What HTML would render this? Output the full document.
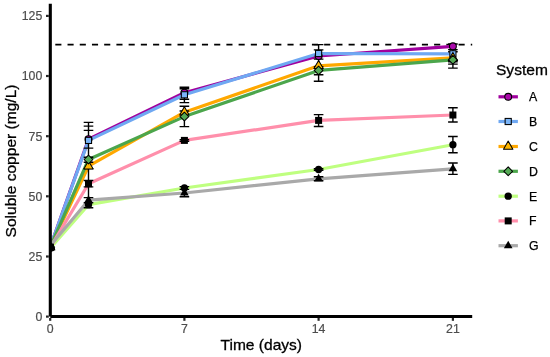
<!DOCTYPE html>
<html><head><meta charset="utf-8"><title>Soluble copper</title>
<style>
html,body{margin:0;padding:0;background:#fff;}
svg{display:block;font-family:"Liberation Sans",sans-serif;}
</style></head><body>
<svg width="550" height="357" viewBox="0 0 550 357">
<defs><clipPath id="pc"><rect x="50.2" y="3.8" width="422" height="312.8"/></clipPath></defs>
<rect width="550" height="357" fill="#fff"/>
<line x1="55.3" x2="472.2" y1="44.7" y2="44.7" stroke="#000" stroke-width="1.7" stroke-dasharray="6.11 6.11"/>
<g fill="none" stroke-linejoin="round" stroke-linecap="butt" clip-path="url(#pc)">
<polyline points="50.2,247.2 88.5,139.2 184.4,92.7 318.6,56.0 452.9,46.3" stroke="#A0009E" stroke-width="3.2"/>
<polyline points="50.2,247.2 88.5,140.4 184.4,94.8 318.6,53.5 452.9,53.8" stroke="#6FA8F2" stroke-width="3.2"/>
<polyline points="50.2,247.2 88.5,166.2 184.4,112.2 318.6,65.8 452.9,57.8" stroke="#FFA800" stroke-width="3.2"/>
<polyline points="50.2,247.2 88.5,159.5 184.4,116.6 318.6,70.4 452.9,59.8" stroke="#4CA64C" stroke-width="3.2"/>
<polyline points="50.2,248.3 88.5,204.7 184.4,188.0 318.6,169.5 452.9,144.7" stroke="#BFFF80" stroke-width="3.2"/>
<polyline points="50.2,247.6 88.5,183.7 184.4,140.4 318.6,120.4 452.9,115.0" stroke="#FF8FAB" stroke-width="3.2"/>
<polyline points="50.2,245.8 88.5,200.2 184.4,193.0 318.6,178.8 452.9,168.8" stroke="#A9A9A9" stroke-width="3.2"/>
</g>
<g stroke="#000" stroke-width="1.4" fill="none" clip-path="url(#pc)">
<path d="M50.2 245.0V251.8"/>
<path d="M45.4 248.4H55.0"/>
<path d="M88.5 122.4V207.8"/>
<path d="M83.7 122.4H93.3"/>
<path d="M83.7 126.1H93.3"/>
<path d="M83.7 130.4H93.3"/>
<path d="M83.7 148.1H93.3"/>
<path d="M83.7 157.2H93.3"/>
<path d="M83.7 162.2H93.3"/>
<path d="M83.7 168.6H93.3"/>
<path d="M83.7 180.5H93.3"/>
<path d="M83.7 186.9H93.3"/>
<path d="M83.7 197.6H93.3"/>
<path d="M83.7 202.8H93.3"/>
<path d="M83.7 207.8H93.3"/>
<path d="M184.4 87.2V102.6"/>
<path d="M184.4 106.2V126.6"/>
<path d="M184.4 139.4V141.4"/>
<path d="M184.4 186.6V196.8"/>
<path d="M179.6 87.2H189.2"/>
<path d="M179.6 88.8H189.2"/>
<path d="M179.6 99.3H189.2"/>
<path d="M179.6 102.6H189.2"/>
<path d="M179.6 106.2H189.2"/>
<path d="M179.6 111.0H189.2"/>
<path d="M179.6 126.6H189.2"/>
<path d="M179.6 139.6H189.2"/>
<path d="M179.6 141.2H189.2"/>
<path d="M179.6 186.6H189.2"/>
<path d="M179.6 189.4H189.2"/>
<path d="M179.6 196.8H189.2"/>
<path d="M318.6 44.6V81.2"/>
<path d="M318.6 114.6V126.5"/>
<path d="M318.6 168.5V170.5"/>
<path d="M318.6 176.8V180.8"/>
<path d="M313.8 44.6H323.4"/>
<path d="M313.8 49.9H323.4"/>
<path d="M313.8 59.1H323.4"/>
<path d="M313.8 66.6H323.4"/>
<path d="M313.8 74.7H323.4"/>
<path d="M313.8 81.3H323.4"/>
<path d="M313.8 114.6H323.4"/>
<path d="M313.8 126.5H323.4"/>
<path d="M313.8 168.7H323.4"/>
<path d="M313.8 170.3H323.4"/>
<path d="M313.8 176.8H323.4"/>
<path d="M313.8 180.8H323.4"/>
<path d="M452.9 44.0V68.1"/>
<path d="M452.9 107.7V122.0"/>
<path d="M452.9 136.5V152.7"/>
<path d="M452.9 163.0V174.4"/>
<path d="M448.1 44.0H457.7"/>
<path d="M448.1 49.6H457.7"/>
<path d="M448.1 51.8H457.7"/>
<path d="M448.1 61.7H457.7"/>
<path d="M448.1 64.1H457.7"/>
<path d="M448.1 68.1H457.7"/>
<path d="M448.1 107.7H457.7"/>
<path d="M448.1 122.0H457.7"/>
<path d="M448.1 136.5H457.7"/>
<path d="M448.1 152.7H457.7"/>
<path d="M448.1 163.0H457.7"/>
<path d="M448.1 174.4H457.7"/>
</g>
<g clip-path="url(#pc)">
<circle cx="50.2" cy="247.2" r="3.45" fill="#AA0AAA" stroke="#000" stroke-width="1.05"/>
<circle cx="88.5" cy="139.2" r="3.45" fill="#AA0AAA" stroke="#000" stroke-width="1.05"/>
<circle cx="184.4" cy="92.7" r="3.45" fill="#AA0AAA" stroke="#000" stroke-width="1.05"/>
<circle cx="318.6" cy="56.0" r="3.45" fill="#AA0AAA" stroke="#000" stroke-width="1.05"/>
<circle cx="452.9" cy="46.3" r="3.45" fill="#AA0AAA" stroke="#000" stroke-width="1.05"/>
<rect x="47.12" y="244.12" width="6.16" height="6.16" fill="#7AB4F8" stroke="#000" stroke-width="1.05"/>
<rect x="85.42" y="137.32" width="6.16" height="6.16" fill="#7AB4F8" stroke="#000" stroke-width="1.05"/>
<rect x="181.32" y="91.72" width="6.16" height="6.16" fill="#7AB4F8" stroke="#000" stroke-width="1.05"/>
<rect x="315.52" y="50.42" width="6.16" height="6.16" fill="#7AB4F8" stroke="#000" stroke-width="1.05"/>
<rect x="449.82" y="50.72" width="6.16" height="6.16" fill="#7AB4F8" stroke="#000" stroke-width="1.05"/>
<path d="M50.20 241.80L54.88 249.90L45.52 249.90Z" fill="#FFB700" stroke="#000" stroke-width="1.05" stroke-linejoin="round"/>
<path d="M88.50 160.80L93.18 168.90L83.82 168.90Z" fill="#FFB700" stroke="#000" stroke-width="1.05" stroke-linejoin="round"/>
<path d="M184.40 106.80L189.08 114.90L179.72 114.90Z" fill="#FFB700" stroke="#000" stroke-width="1.05" stroke-linejoin="round"/>
<path d="M318.60 60.40L323.28 68.50L313.92 68.50Z" fill="#FFB700" stroke="#000" stroke-width="1.05" stroke-linejoin="round"/>
<path d="M452.90 52.40L457.58 60.50L448.22 60.50Z" fill="#FFB700" stroke="#000" stroke-width="1.05" stroke-linejoin="round"/>
<path d="M50.20 242.83L54.57 247.20L50.20 251.57L45.83 247.20Z" fill="#55AA55" stroke="#000" stroke-width="1.05" stroke-linejoin="round"/>
<path d="M88.50 155.13L92.87 159.50L88.50 163.87L84.13 159.50Z" fill="#55AA55" stroke="#000" stroke-width="1.05" stroke-linejoin="round"/>
<path d="M184.40 112.23L188.77 116.60L184.40 120.97L180.03 116.60Z" fill="#55AA55" stroke="#000" stroke-width="1.05" stroke-linejoin="round"/>
<path d="M318.60 66.03L322.97 70.40L318.60 74.77L314.23 70.40Z" fill="#55AA55" stroke="#000" stroke-width="1.05" stroke-linejoin="round"/>
<path d="M452.90 55.43L457.27 59.80L452.90 64.17L448.53 59.80Z" fill="#55AA55" stroke="#000" stroke-width="1.05" stroke-linejoin="round"/>
<circle cx="50.2" cy="248.3" r="3.65" fill="#000"/>
<circle cx="88.5" cy="204.7" r="3.65" fill="#000"/>
<circle cx="184.4" cy="188.0" r="3.65" fill="#000"/>
<circle cx="318.6" cy="169.5" r="3.65" fill="#000"/>
<circle cx="452.9" cy="144.7" r="3.65" fill="#000"/>
<rect x="46.70" y="244.10" width="7.00" height="7.00" fill="#000"/>
<rect x="85.00" y="180.20" width="7.00" height="7.00" fill="#000"/>
<rect x="180.90" y="136.90" width="7.00" height="7.00" fill="#000"/>
<rect x="315.10" y="116.90" width="7.00" height="7.00" fill="#000"/>
<rect x="449.40" y="111.50" width="7.00" height="7.00" fill="#000"/>
<path d="M50.20 240.80L54.53 248.30L45.87 248.30Z" fill="#000"/>
<path d="M88.50 195.20L92.83 202.70L84.17 202.70Z" fill="#000"/>
<path d="M184.40 188.00L188.73 195.50L180.07 195.50Z" fill="#000"/>
<path d="M318.60 173.80L322.93 181.30L314.27 181.30Z" fill="#000"/>
<path d="M452.90 163.80L457.23 171.30L448.57 171.30Z" fill="#000"/>
</g>
<line x1="50.3" x2="50.3" y1="3.8" y2="316.6" stroke="#000" stroke-width="3.1"/>
<line x1="50.3" x2="472.2" y1="316.55" y2="316.55" stroke="#000" stroke-width="3"/>
<line x1="46.0" x2="48.8" y1="316.6" y2="316.6" stroke="#262626" stroke-width="2.2"/>
<text x="42.3" y="321.0" text-anchor="end" font-size="12.3" fill="#4D4D4D" stroke="#4D4D4D" stroke-width="0.2">0</text>
<line x1="46.0" x2="48.8" y1="256.5" y2="256.5" stroke="#262626" stroke-width="2.2"/>
<text x="42.3" y="260.9" text-anchor="end" font-size="12.3" fill="#4D4D4D" stroke="#4D4D4D" stroke-width="0.2">25</text>
<line x1="46.0" x2="48.8" y1="196.3" y2="196.3" stroke="#262626" stroke-width="2.2"/>
<text x="42.3" y="200.7" text-anchor="end" font-size="12.3" fill="#4D4D4D" stroke="#4D4D4D" stroke-width="0.2">50</text>
<line x1="46.0" x2="48.8" y1="136.2" y2="136.2" stroke="#262626" stroke-width="2.2"/>
<text x="42.3" y="140.6" text-anchor="end" font-size="12.3" fill="#4D4D4D" stroke="#4D4D4D" stroke-width="0.2">75</text>
<line x1="46.0" x2="48.8" y1="76.0" y2="76.0" stroke="#262626" stroke-width="2.2"/>
<text x="42.3" y="80.4" text-anchor="end" font-size="12.3" fill="#4D4D4D" stroke="#4D4D4D" stroke-width="0.2">100</text>
<line x1="46.0" x2="48.8" y1="15.9" y2="15.9" stroke="#262626" stroke-width="2.2"/>
<text x="42.3" y="20.3" text-anchor="end" font-size="12.3" fill="#4D4D4D" stroke="#4D4D4D" stroke-width="0.2">125</text>
<line x1="50.2" x2="50.2" y1="318" y2="320.8" stroke="#262626" stroke-width="2.2"/>
<text x="50.2" y="332.5" text-anchor="middle" font-size="12.3" fill="#4D4D4D" stroke="#4D4D4D" stroke-width="0.2">0</text>
<line x1="184.4" x2="184.4" y1="318" y2="320.8" stroke="#262626" stroke-width="2.2"/>
<text x="184.4" y="332.5" text-anchor="middle" font-size="12.3" fill="#4D4D4D" stroke="#4D4D4D" stroke-width="0.2">7</text>
<line x1="318.6" x2="318.6" y1="318" y2="320.8" stroke="#262626" stroke-width="2.2"/>
<text x="318.6" y="332.5" text-anchor="middle" font-size="12.3" fill="#4D4D4D" stroke="#4D4D4D" stroke-width="0.2">14</text>
<line x1="452.9" x2="452.9" y1="318" y2="320.8" stroke="#262626" stroke-width="2.2"/>
<text x="452.9" y="332.5" text-anchor="middle" font-size="12.3" fill="#4D4D4D" stroke="#4D4D4D" stroke-width="0.2">21</text>
<text x="261.3" y="350.4" text-anchor="middle" font-size="15.55" fill="#000" stroke="#000" stroke-width="0.3">Time (days)</text>
<text transform="translate(16.0 161) rotate(-90)" text-anchor="middle" font-size="15.55" fill="#000" stroke="#000" stroke-width="0.3">Soluble copper (mg/L)</text>
<text x="496.0" y="75.4" font-size="15.55" fill="#000" stroke="#000" stroke-width="0.3">System</text>
<line x1="498.5" x2="517.9" y1="96.8" y2="96.8" stroke="#A0009E" stroke-width="3.2"/>
<circle cx="508.2" cy="96.8" r="3.45" fill="#AA0AAA" stroke="#000" stroke-width="1.05"/>
<text x="529" y="101.2" font-size="12.3" fill="#000" stroke="#000" stroke-width="0.25">A</text>
<line x1="498.5" x2="517.9" y1="121.5" y2="121.5" stroke="#6FA8F2" stroke-width="3.2"/>
<rect x="505.12" y="118.42" width="6.16" height="6.16" fill="#7AB4F8" stroke="#000" stroke-width="1.05"/>
<text x="529" y="125.9" font-size="12.3" fill="#000" stroke="#000" stroke-width="0.25">B</text>
<line x1="498.5" x2="517.9" y1="146.5" y2="146.5" stroke="#FFA800" stroke-width="3.2"/>
<path d="M508.20 141.10L512.88 149.20L503.52 149.20Z" fill="#FFB700" stroke="#000" stroke-width="1.05" stroke-linejoin="round"/>
<text x="529" y="150.9" font-size="12.3" fill="#000" stroke="#000" stroke-width="0.25">C</text>
<line x1="498.5" x2="517.9" y1="171.3" y2="171.3" stroke="#4CA64C" stroke-width="3.2"/>
<path d="M508.20 166.93L512.57 171.30L508.20 175.67L503.83 171.30Z" fill="#55AA55" stroke="#000" stroke-width="1.05" stroke-linejoin="round"/>
<text x="529" y="175.7" font-size="12.3" fill="#000" stroke="#000" stroke-width="0.25">D</text>
<line x1="498.5" x2="517.9" y1="196.2" y2="196.2" stroke="#BFFF80" stroke-width="3.2"/>
<circle cx="508.2" cy="196.2" r="3.65" fill="#000"/>
<text x="529" y="200.6" font-size="12.3" fill="#000" stroke="#000" stroke-width="0.25">E</text>
<line x1="498.5" x2="517.9" y1="220.9" y2="220.9" stroke="#FF8FAB" stroke-width="3.2"/>
<rect x="504.70" y="217.40" width="7.00" height="7.00" fill="#000"/>
<text x="529" y="225.3" font-size="12.3" fill="#000" stroke="#000" stroke-width="0.25">F</text>
<line x1="498.5" x2="517.9" y1="245.7" y2="245.7" stroke="#A9A9A9" stroke-width="3.2"/>
<path d="M508.20 240.70L512.53 248.20L503.87 248.20Z" fill="#000"/>
<text x="529" y="250.1" font-size="12.3" fill="#000" stroke="#000" stroke-width="0.25">G</text>
</svg>
</body></html>
